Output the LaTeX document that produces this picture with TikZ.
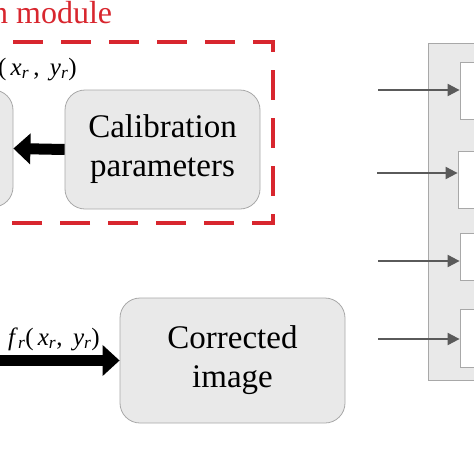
\documentclass[tikz,border=0pt]{standalone}
\usepackage{fontspec}
\setmainfont{Liberation Serif}
\usetikzlibrary{arrows.meta}
\definecolor{boxfill}{HTML}{E9E9E9}
\definecolor{boxline}{HTML}{A8A8A8}
\definecolor{modred}{HTML}{D8262E}
\definecolor{arrgray}{HTML}{5A5A5A}
\tikzset{
  procbox/.style={draw=boxline, line width=0.8pt, fill=boxfill, rounded corners=20pt, align=center,
    font=\fontsize{33}{39}\selectfont, inner sep=0pt},
  bigarrow/.style={line width=11pt, -{Triangle[length=17pt,width=30pt]}},
  thinarrow/.style={draw=arrgray, line width=2pt, -{Triangle[length=12pt,width=12pt]}, arrgray},
  whitebox/.style={draw=boxline, line width=0.8pt, fill=white},
  lbl/.style={font=\fontsize{25}{28}\selectfont, inner sep=0pt}
}
\begin{document}
\begin{tikzpicture}[x=1pt,y=1pt]
\useasboundingbox (0,0) rectangle (474,-474);
% module frame
\draw[modred, line width=4.5pt, dash pattern=on 30pt off 18pt, dash phase=23pt]
  (-60,-42) -- (273,-42) -- (273,-223) -- (-60,-223);
\node[modred, anchor=base west, inner sep=0pt, font=\fontsize{32}{36}\selectfont] (modtitle) at (-8,-23) {n\ module};
% left partial node
\node[procbox, minimum width=200pt, minimum height=117pt] (leftnode) at (-87,-148.5) {};
% calibration
\node[procbox, minimum width=195pt, minimum height=119pt] (calib) at (162.5,-149.5) {Calibration\\parameters};
\draw[bigarrow] (calib.west) -- (leftnode.east);
\node[lbl, anchor=base west] (toplbl) at (-2,-75) {(\,\textit{x}\textsubscript{\textit{r}}\,,\, \textit{y}\textsubscript{\textit{r}})};
% corrected
\node[procbox, minimum width=225pt, minimum height=125pt] (corr) at (232.5,-360.5) {Corrected\\image};
\coordinate (cin) at (-5,-360.5);
\draw[bigarrow] (cin) -- (corr.west);
\node[lbl, anchor=base west] (flbl) at (8,-345) {\textit{f}\textsubscript{\textit{r}}(\,\textit{x}\textsubscript{\textit{r}},\, \textit{y}\textsubscript{\textit{r}})};
% right panel
\node[draw=boxline, line width=0.8pt, fill=boxfill, minimum width=120pt, minimum height=337pt, inner sep=0pt] (panel) at (488,-211.5) {};
\node[whitebox, minimum width=80pt, minimum height=57pt, inner sep=0pt] (b1) at (500,-90.5) {};
\node[whitebox, minimum width=84pt, minimum height=57pt, inner sep=0pt] (b2) at (500,-179.5) {};
\node[whitebox, minimum width=80pt, minimum height=47pt, inner sep=0pt] (b3) at (500,-256.5) {};
\node[whitebox, minimum width=80pt, minimum height=58pt, inner sep=0pt] (b4) at (500,-338) {};
\coordinate (a1) at (378,-90);
\coordinate (a2) at (377,-173);
\coordinate (a3) at (378,-261);
\coordinate (a4) at (378,-339);
\draw[thinarrow] (a1) -- (a1 -| b1.west);
\draw[thinarrow] (a2) -- (a2 -| b2.west);
\draw[thinarrow] (a3) -- (a3 -| b3.west);
\draw[thinarrow] (a4) -- (a4 -| b4.west);
\end{tikzpicture}
\end{document}
